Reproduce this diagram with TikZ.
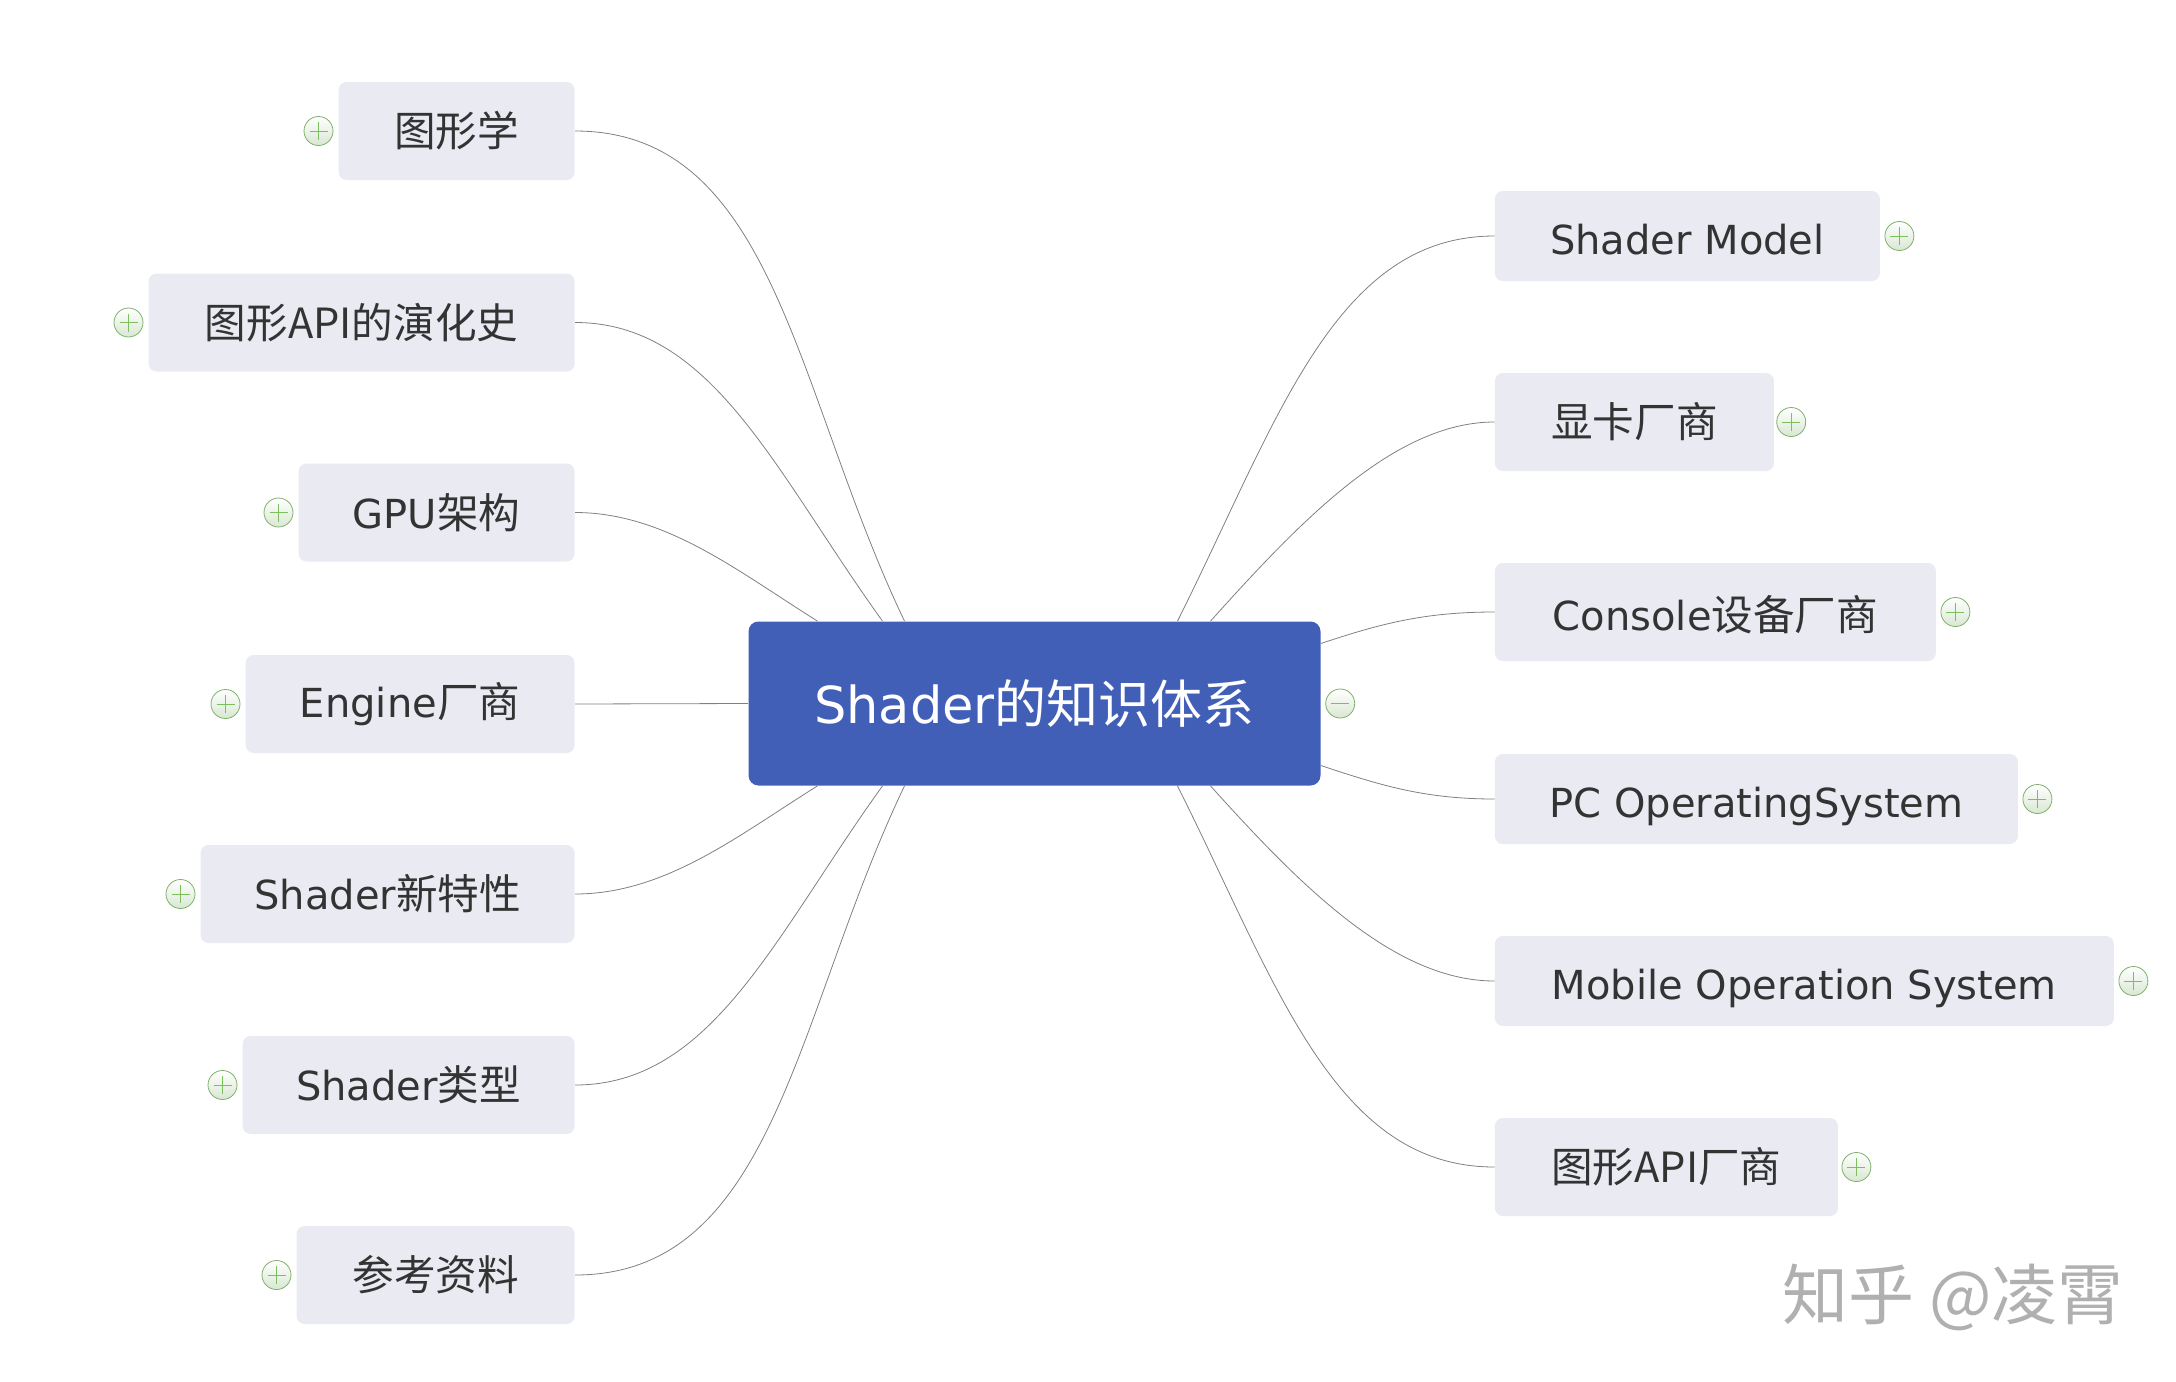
\documentclass[tikz,border=0pt]{standalone}
\usepackage{fontspec}
\setmainfont{DejaVu Sans}
\newfontfamily\cjk{Noto Sans CJK SC}
\usetikzlibrary{positioning}
\definecolor{nodefill}{HTML}{E9EAF2}
\definecolor{rootfill}{HTML}{425FB8}
\definecolor{inktext}{HTML}{333333}
\definecolor{linkgray}{HTML}{808080}
\definecolor{togglegreen}{HTML}{7FB06A}
\definecolor{toggleplus}{HTML}{7CC05C}
\definecolor{marktext}{HTML}{B0B0B0}

\begin{document}
\begin{tikzpicture}[x=0.5pt, y=-0.5pt]
    \tikzset{topic/.style={fill=nodefill, rounded corners=4pt, text=inktext, inner sep=0pt,
        font=\fontsize{20}{24}\selectfont, minimum height=49pt}}
    \tikzset{lefttopic/.style={topic, anchor=east}}
    \tikzset{righttopic/.style={topic, anchor=west}}
    \tikzset{lowtext/.style={text height=20pt, text depth=2pt}}
    \tikzset{toggle/.style={circle, draw=togglegreen, line width=0.4pt, top color=white,
        bottom color=togglegreen!30, minimum size=14.5pt, inner sep=0pt}}
    \tikzset{plusmark/.style={toggle, path picture={
        \draw[toggleplus, line width=0.5pt] ([xshift=-4.5pt]path picture bounding box.center) -- ([xshift=4.5pt]path picture bounding box.center);
        \draw[toggleplus, line width=0.5pt] ([yshift=-4.5pt]path picture bounding box.center) -- ([yshift=4.5pt]path picture bounding box.center);}}}
    \tikzset{minusmark/.style={toggle, path picture={
        \draw[toggleplus, line width=0.7pt] ([xshift=-4.5pt]path picture bounding box.center) -- ([xshift=4.5pt]path picture bounding box.center);}}}
    \tikzset{link/.style={draw=linkgray, line width=0.4pt}}

    \useasboundingbox (0,0) rectangle (2176,1382);

    % root
    \node[fill=rootfill, rounded corners=5pt, text=white, minimum width=286pt, minimum height=82pt,
        inner sep=0pt, font=\fontsize{25.5}{28}\selectfont] (root) at (1034.5,703.5) {Shader{\cjk\fontsize{26}{28}\selectfont 的知识体系}};
    \node[minusmark, right=2.2pt of root] (rootT) {};

    % left side
    \node[lefttopic, minimum width=118pt]   (gfx)     at (575,131)  {\cjk\fontsize{20.8}{24}\selectfont 图形学};
    \node[lefttopic, minimum width=213pt]   (history) at (575,322.5)  {{\cjk\fontsize{20.8}{24}\selectfont 图形API的演化史}};
    \node[lefttopic, minimum width=138pt]   (gpu)     at (575,512.5)  {GPU{\cjk\fontsize{20.8}{24}\selectfont 架构}};
    \node[lefttopic, minimum width=164.5pt] (engine)  at (575,704)  {Engine{\cjk\fontsize{20.8}{24}\selectfont 厂商}};
    \node[lefttopic, minimum width=187pt]   (feature) at (575,894)  {Shader{\cjk\fontsize{20.8}{24}\selectfont 新特性}};
    \node[lefttopic, minimum width=166pt]   (kind)    at (575,1085) {Shader{\cjk\fontsize{20.8}{24}\selectfont 类型}};
    \node[lefttopic, minimum width=139pt]   (refs)    at (575,1275) {\cjk\fontsize{20.8}{24}\selectfont 参考资料};

    \node[plusmark, left=2.4pt of gfx]     (gfxT) {};
    \node[plusmark, left=2.4pt of history] (historyT) {};
    \node[plusmark, left=2.4pt of gpu]     (gpuT) {};
    \node[plusmark, left=2.4pt of engine]  (engineT) {};
    \node[plusmark, left=2.4pt of feature] (featureT) {};
    \node[plusmark, left=2.4pt of kind]    (kindT) {};
    \node[plusmark, left=2.4pt of refs]    (refsT) {};

    % right side
    \node[righttopic, lowtext, minimum width=192.5pt, minimum height=45pt] (model)   at (1494.5,236)  {Shader Model};
    \node[righttopic, minimum width=139.5pt]                               (card)    at (1494.5,422)  {\cjk\fontsize{20.8}{24}\selectfont 显卡厂商};
    \node[righttopic, lowtext, minimum width=220.5pt]                      (console) at (1494.5,612)  {Console{\cjk\fontsize{20.8}{24}\selectfont 设备厂商}};
    \node[righttopic, lowtext, minimum width=261.5pt, minimum height=45pt] (pc)      at (1494.5,799)  {PC OperatingSystem};
    \node[righttopic, lowtext, minimum width=309.5pt, minimum height=45pt] (mobile)  at (1494.5,981)  {Mobile Operation System};
    \node[righttopic, minimum width=171.5pt]                               (vendor)  at (1494.5,1167) {{\cjk\fontsize{20.8}{24}\selectfont 图形API厂商}};

    \node[plusmark, right=2.1pt of model]   (modelT) {};
    \node[plusmark, right=1pt of card]      (cardT) {};
    \node[plusmark, right=2.1pt of console] (consoleT) {};
    \node[plusmark, right=2.1pt of pc]      (pcT) {};
    \node[plusmark, right=2.1pt of mobile]  (mobileT) {};
    \node[plusmark, right=1.6pt of vendor]  (vendorT) {};

    % connectors
    \draw[link] (gfx.east)     .. controls +(200,0) and +(-110,-230) .. ([xshift=-65pt]root.north);
    \draw[link] (history.east) .. controls +(137,0) and +(-108,-150) .. ([xshift=-76pt]root.north);
    \draw[link] (gpu.east)     .. controls +(90,0)  and +(-80,-50)   .. ([xshift=-108.5pt]root.north);
    \draw[link] (engine.east)  -- (root.west);
    \draw[link] (feature.east) .. controls +(90,0)  and +(-80,50)    .. ([xshift=-108.5pt]root.south);
    \draw[link] (kind.east)    .. controls +(137,0) and +(-108,150)  .. ([xshift=-76pt]root.south);
    \draw[link] (refs.east)    .. controls +(200,0) and +(-110,230)  .. ([xshift=-65pt]root.south);

    \draw[link] (model.west)   .. controls +(-160,0) and +(100,-200) .. ([xshift=71.5pt]root.north);
    \draw[link] (card.west)    .. controls +(-100,0) and +(90,-100)  .. ([xshift=88pt]root.north);
    \draw[link] (console.west) .. controls +(-70,0)  and +(60,-20)   .. ([yshift=30pt]root.east);
    \draw[link] (pc.west)      .. controls +(-70,0)  and +(60,20)    .. ([yshift=-31pt]root.east);
    \draw[link] (mobile.west)  .. controls +(-100,0) and +(90,100)   .. ([xshift=88pt]root.south);
    \draw[link] (vendor.west)  .. controls +(-160,0) and +(100,200)  .. ([xshift=71.5pt]root.south);

    % watermark
    \node[text=marktext, inner sep=0pt, font=\cjk\fontsize{33}{36}\selectfont] (mark) at (1953,1297) {知乎 @凌霄};
\end{tikzpicture}
\end{document}
